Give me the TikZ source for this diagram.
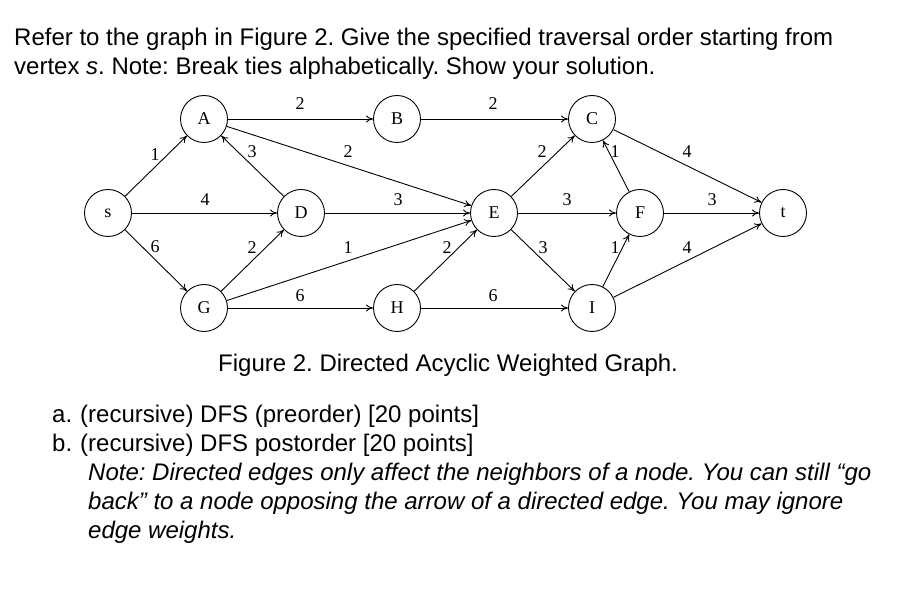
\documentclass[tikz,border=0pt]{standalone}
\usepackage{fontspec}
\setmainfont{Liberation Sans}
\newfontfamily\serf{Liberation Serif}
\usetikzlibrary{arrows.meta}
\frenchspacing
\begin{document}
\begin{tikzpicture}[x=1pt,y=-1pt,
  vtx/.style={draw,circle,minimum size=47pt,inner sep=0pt,line width=0.9pt,font=\serf\fontsize{18}{18}\selectfont},
  edg/.style={line width=0.9pt,-{To[length=7pt,width=7pt]}},
  wl/.style={font=\serf\fontsize{18}{18}\selectfont,inner sep=0pt},
  txt/.style={anchor=base west,inner sep=0pt,font=\fontsize{24}{28}\selectfont}]
\useasboundingbox (0,0) rectangle (910,601);
\node[vtx] (s) at (108,213) {s};
\node[vtx] (A) at (204,119) {A};
\node[vtx] (B) at (397,119) {B};
\node[vtx] (C) at (592,119) {C};
\node[vtx] (D) at (301,213) {D};
\node[vtx] (E) at (494,213) {E};
\node[vtx] (F) at (640,213) {F};
\node[vtx] (t) at (783,213) {t};
\node[vtx] (G) at (204,308) {G};
\node[vtx] (H) at (397,308) {H};
\node[vtx] (I) at (592,308) {I};
\draw[edg] (s)--(A); \draw[edg] (s)--(D); \draw[edg] (s)--(G);
\draw[edg] (A)--(B); \draw[edg] (D)--(A); \draw[edg] (A)--(E);
\draw[edg] (D)--(E); \draw[edg] (G)--(D); \draw[edg] (G)--(E);
\draw[edg] (G)--(H); \draw[edg] (H)--(E); \draw[edg] (B)--(C);
\draw[edg] (E)--(C); \draw[edg] (E)--(F); \draw[edg] (E)--(I);
\draw[edg] (H)--(I); \draw[edg] (F)--(C); \draw[edg] (I)--(F);
\draw[edg] (C)--(t); \draw[edg] (F)--(t); \draw[edg] (I)--(t);
\node[wl] (w1) at (155,155) {1};
\node[wl] (w2) at (205,200) {4};
\node[wl] (w3) at (155,247) {6};
\node[wl] (w4) at (300,104) {2};
\node[wl] (w5) at (252,152) {3};
\node[wl] (w6) at (348,152) {2};
\node[wl] (w7) at (398,200) {3};
\node[wl] (w8) at (252,248) {2};
\node[wl] (w9) at (348,248) {1};
\node[wl] (w10) at (300,296) {6};
\node[wl] (w11) at (447,248) {2};
\node[wl] (w12) at (493,104) {2};
\node[wl] (w13) at (542,152) {2};
\node[wl] (w14) at (567,200) {3};
\node[wl] (w15) at (543,248) {3};
\node[wl] (w16) at (493,296) {6};
\node[wl] (w17) at (615,152) {1};
\node[wl] (w18) at (615,248) {1};
\node[wl] (w19) at (687,152) {4};
\node[wl] (w20) at (712,200) {3};
\node[wl] (w21) at (687,248) {4};
\node[txt] (l1) at (14,46) {Refer to the graph in Figure 2. Give the specified traversal order starting from};
\node[txt] (l2) at (14,75) {vertex \textit{s}. Note: Break ties alphabetically. Show your solution.};
\node[txt] (cap) at (218,371) {Figure 2. Directed Acyclic Weighted Graph.};
\node[txt] (la) at (52,422) {a.\hspace{8pt}(recursive) DFS (preorder) [20 points]};
\node[txt] (lb) at (52,451) {b.\hspace{8pt}(recursive) DFS postorder [20 points]};
\node[txt] (n1) at (88,480) {\itshape Note: Directed edges only affect the neighbors of a node. You can still “go};
\node[txt] (n2) at (88,509) {\itshape back” to a node opposing the arrow of a directed edge. You may ignore};
\node[txt] (n3) at (88,538) {\itshape edge weights.};
\end{tikzpicture}
\end{document}
